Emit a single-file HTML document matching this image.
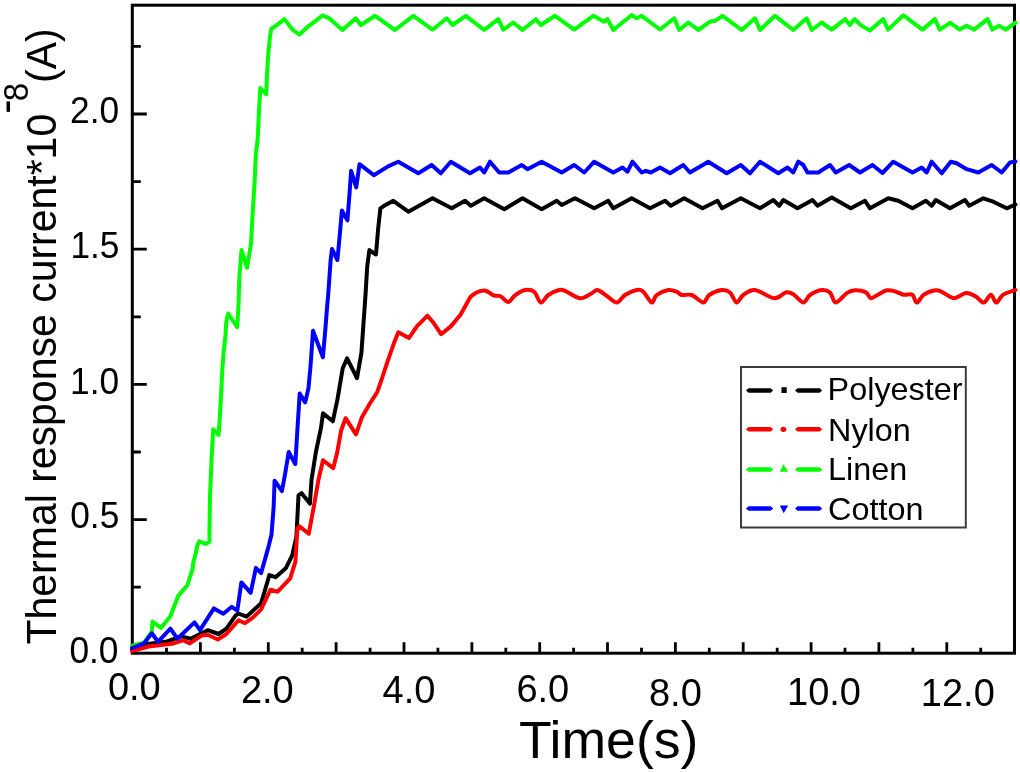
<!DOCTYPE html>
<html><head><meta charset="utf-8"><title>Thermal response current</title>
<style>
html,body{margin:0;padding:0;background:#fff;}
body{width:1020px;height:772px;overflow:hidden;}
svg{display:block;}
text{font-family:"Liberation Sans",sans-serif;fill:#000;}
.xl{font-size:38px;}
.yl{font-size:37px;}
.lg{font-size:31px;}
</style></head>
<body>
<svg width="1020" height="772" viewBox="0 0 1020 772">
<rect width="1020" height="772" fill="#fff"/>
<rect x="132.3" y="5.2" width="882.2" height="648.0" fill="none" stroke="#000" stroke-width="3"/>
<path d="M166.5 653.2V647.7M200.4 653.2V642.2M234.4 653.2V647.7M268.3 653.2V642.2M302.2 653.2V647.7M336.1 653.2V642.2M370.1 653.2V647.7M404.0 653.2V642.2M437.9 653.2V647.7M471.9 653.2V642.2M505.8 653.2V647.7M539.7 653.2V642.2M573.6 653.2V647.7M607.5 653.2V642.2M641.5 653.2V647.7M675.4 653.2V642.2M709.3 653.2V647.7M743.2 653.2V642.2M777.2 653.2V647.7M811.1 653.2V642.2M845.0 653.2V647.7M878.9 653.2V642.2M912.9 653.2V647.7M946.8 653.2V642.2M980.7 653.2V647.7M132.3 587.2H140.8M132.3 519.6H146.8M132.3 452.0H140.8M132.3 384.4H146.8M132.3 316.8H140.8M132.3 249.2H146.8M132.3 181.6H140.8M132.3 114.0H146.8M132.3 46.4H140.8" stroke="#000" stroke-width="2.8" fill="none"/>
<defs><filter id="bl" x="-5%" y="-5%" width="110%" height="110%"><feGaussianBlur stdDeviation="0.45"/></filter></defs>
<g fill="none" stroke-width="4" stroke-linejoin="round" stroke-linecap="round" filter="url(#bl)">
<polyline stroke="#000000" points="132,650.4 145.5,644.2 165.8,641.8 181.3,636.4 190.6,638.7 207.7,630.2 218.6,634 226.4,628.6 235.7,615.4 238.3,613.5 246.6,616.6 261.1,603.2 269.4,575.1 275.6,577.2 286,567.9 292.2,555.4 296.4,536.8 298.5,495.3 301.6,493.2 309.9,503.6 311.5,480 315.8,452.5 321,427.9 323,413.2 332.8,421.3 337.5,399.2 342.7,368.3 347.1,358.4 357,378.2 361.4,352.9 363.6,322 365.5,295 367.2,266.6 369.4,250.1 376,254.5 378.2,228.1 380.4,208.3 383.7,206.1 393.3,200.8 408.3,211.7 432.5,198.3 451.7,208.3 465,200.8 470.8,205.8 484.2,198.3 504.2,209.2 522.5,198.3 541.7,209.2 556.7,200.8 561.7,205 575,198.3 594.2,208.3 608.3,200.8 613.3,208.3 631.7,198.3 650,208.3 665,200.8 670.8,205.8 684.2,198.3 702.5,208.3 717.5,200.8 722,208.3 740.8,198.3 760,208.3 773.3,200 779.2,205.8 783.3,200 797.5,208.3 812.5,200 817.5,205.8 831.7,197.5 850.8,208.3 865,200.8 870,208.3 888.3,198.3 898.3,200.8 912.5,208.3 925.8,200.8 931.7,205.8 935.8,200 950,208.3 965,200 969.2,205.8 983.3,198.3 993.3,201.7 1006.7,208.3 1015.5,204.5"/>
<path stroke="#ff0000" d="M132,651.1L148.7,646.5L173.5,643.4L182.9,640.3L189.8,643.4L201.5,635.6L207.7,634.8L217.8,639.5L226.4,634L238.5,620.2L245,623.2L252.8,617.7L261.1,609.4L270.5,589.7L277.7,591.7L290.2,578.3L295.4,561.7L297.4,528.5L299.5,526.4L308.8,533.7L314,505.6L318.4,480L323,460.3L333.3,468.1L337.2,452.5L341.1,430.5L345.6,418.2L356,434.4L361.8,417.6L369.6,404L377.4,391.7L380.8,381.8L387.6,361.4L394.4,341.9L398.3,332.2L409,338L416.8,326.4L427.5,315.7L433.3,322.5L441.1,334.2L450.8,326.4L460.5,314.7L470.2,297.2C474.1,293.1 480.0,290.7 483.9,290.4C487.8,290.1 490.9,294.3 493.6,295.3C496.4,296.3 498.0,295.1 500.4,296.2C502.8,297.3 505.8,302.2 508.2,302.1C510.6,302.0 512.2,297.3 515,295.3C517.8,293.3 521.8,290.6 525,290C528.2,289.4 531.6,289.6 534.2,291.7C536.8,293.8 538.4,301.9 540.8,302.5C543.1,303.1 545.2,297.1 548.3,295C551.4,292.9 556.4,290.7 559.2,290C562.0,289.3 561.5,289.4 565,290.8C568.5,292.2 575.5,297.9 580,298.3C584.5,298.7 588.8,294.7 591.7,293.3C594.6,291.9 595.0,289.6 597.5,290C600.0,290.4 603.5,293.7 606.7,295.8C609.9,297.9 613.7,302.6 616.7,302.5C619.8,302.4 621.7,297.1 625,295C628.3,292.9 633.7,290.6 636.7,290C639.8,289.4 640.8,289.6 643.3,291.7C645.8,293.8 649.5,301.9 651.7,302.5C653.9,303.1 653.9,297.1 656.7,295C659.5,292.9 665.0,290.6 668.3,290C671.6,289.4 674.5,290.9 676.7,291.7C678.9,292.5 679.2,294.4 681.7,295C684.2,295.6 688.1,293.8 691.7,295C695.3,296.2 700.4,302.5 703.3,302.5C706.2,302.5 706.1,297.1 709.2,295C712.3,292.9 718.2,290.4 721.7,290C725.2,289.6 727.5,290.4 730,292.5C732.5,294.6 734.5,302.1 736.7,302.5C738.9,302.9 740.2,297.1 743.3,295C746.3,292.9 749.9,289.4 755,290C760.1,290.6 769.1,297.9 774.2,298.3C779.3,298.7 782.6,293.2 785.8,292.5C789.0,291.8 790.4,292.5 793.3,294.2C796.2,295.9 800.5,302.4 803.3,302.5C806.1,302.6 806.9,297.1 810,295C813.1,292.9 818.4,290.4 821.7,290C825.0,289.6 827.6,290.4 830,292.5C832.4,294.6 832.9,302.4 835.8,302.5C838.6,302.6 843.9,294.9 847.1,292.9C850.3,290.9 851.9,290.4 855,290.3C858.1,290.2 863.0,290.8 865.6,292.1C868.2,293.4 868.9,297.8 870.9,298.2C872.9,298.6 875.2,296.0 877.9,294.7C880.5,293.4 884.0,290.9 886.8,290.3C889.6,289.7 891.9,290.5 894.7,291.2C897.5,291.9 900.6,294.1 903.5,294.7C906.4,295.3 910.1,293.4 912.3,294.7C914.5,296.0 914.9,302.6 916.8,302.6C918.7,302.6 920.7,296.8 923.8,294.7C926.9,292.6 932.2,290.7 935.3,290.3C938.4,289.9 939.2,290.8 942.3,292.1C945.4,293.4 949.8,298.1 953.8,298.2C957.8,298.3 962.5,293.2 966.2,292.9C969.9,292.6 973.0,294.9 975.9,296.5C978.8,298.1 981.3,302.9 983.8,302.6C986.3,302.3 988.8,294.7 990.9,294.7C993.0,294.7 994.2,302.6 996.2,302.6C998.2,302.6 1000.0,296.8 1003.2,294.7C1006.4,292.6 1013.5,290.8 1015.5,290"/>
<polyline stroke="#00ff00" points="132,645.7 144,642.6 151.8,631.7 152.5,621.6 161.1,627.8 170.4,616.2 178.2,596 187.5,585 189.8,577.3 192.4,570 193.5,561.5 195.5,554.2 197.6,544.9 199.2,541.3 205.9,543.9 209.5,541.8 209.5,529.4 210,496.2 211.6,458.9 213.2,429.3 218.6,434.8 220,414.3 221.2,392.6 222.3,369.9 223.6,352.6 225.4,336.3 226.3,321.8 228.1,313.6 237.2,327.2 238.6,303.6 239.3,278.8 241.5,250.1 247,267.8 249.2,254.5 251,243.5 251.9,227 253.2,203.9 254.7,180.7 255.8,154.3 257.6,140 258.1,130.7 259.1,108.9 260.3,88 266.3,94.4 266.9,76.2 268.1,56.3 269.9,37.2 271.2,29 276.3,25.4 284.5,19.1 292.6,29.9 299.5,34.5 307.2,27.2 314.4,21.8 322.6,15.4 328.9,18.1 342.5,30 355.8,18.3 360.8,25 375,15.8 395,30 413.3,15.8 432.5,29.7 446.7,18.3 452.5,25 465.8,15.8 484.2,30 498.3,19.2 503.3,29.7 513.3,22.5 522.5,30 535.8,19.2 540.8,25 555,15.8 574.2,29.7 593.3,15.8 604.2,21.7 607.5,19.2 613.3,30 631.7,15 636.7,18.3 641.7,15.8 660,29.5 674.2,18.3 679.2,30 688.3,22.5 698.3,30 710,21.7 715,20.8 722.5,15.8 741.7,30 755,18.3 760,30 775,15.8 793.3,30 806.7,18.3 811.7,30 821.7,22.5 831.7,29.6 845.1,19.1 849.9,24.9 854.6,19.1 860.4,24.9 869.9,30.6 883.3,19.1 888.1,29.6 903.4,15.3 922.5,29.6 935,19.1 939.7,29.6 950.2,22.9 959.8,29.6 966.5,25.8 974.1,29.6 987.5,19.1 992.3,29.6 999,25.8 1005.7,29.6 1015.5,22.6"/>
<polyline stroke="#0000ff" points="132,648 144,643.4 151.8,633.3 158,641.8 170.4,628.6 177.4,638.7 194.5,622.4 200,630.2 213.9,608.4 223.3,613.8 231.8,606.8 237.3,610.7 241.4,582.4 250.7,592.8 255.9,567.9 261.1,573.1 268.4,547.1 271.5,534.7 273.6,507.7 274.6,480.7 281.9,491.1 285,474.5 288.7,452 295.3,464.1 297.5,427.8 299.7,393.6 305.2,402.4 308.5,388.1 310.7,363.9 313,330.8 322.9,357.3 325.3,330 326.8,310.6 328.1,295.7 329.4,277.6 330.7,259.4 332,249 337.4,260 339.6,236.9 341.9,210.5 347.4,220.4 349.6,192.9 351.1,170.8 356.2,187.4 359.5,164.2 373.8,175.2 388.1,166.4 398.3,161.7 418.3,173.3 431.7,165 440.8,173.3 450.8,161.7 470,173.3 480,167.5 484.2,172.5 490,161.7 499.2,172.5 508.3,172.5 521.7,165 527.5,169.2 541.7,161.7 561.7,172.5 574.2,165 584.2,172.5 594.2,161.7 613.3,172.5 622.5,167.5 627.5,171.7 632.5,161.7 641.7,172.5 645.8,170.8 650.8,172.5 660,167.5 670,173.3 683.3,165 690,172.5 708.3,161.7 726.7,173.3 740.8,165 750,173.3 760,161.7 778.3,173.3 787.5,167.5 793.3,172.5 798.3,161.7 803.3,165 807.5,172.5 818.3,172.5 830,165 835.8,172.5 849.2,165 860,172.5 872.5,165 882.5,173 893.3,161.7 912.5,172.5 921.7,167.5 926.7,172.5 931.7,161.7 941.7,173.3 950.8,161.7 956.7,163.3 966.7,169.2 978.3,172.5 991.7,165 1001.7,172.5 1010,162.5 1015.5,161.5"/>
</g>
<text x="134.3" y="700.1" text-anchor="middle" class="xl">0.0</text>
<text x="267.3" y="703" text-anchor="middle" class="xl">2.0</text>
<text x="409" y="703.1" text-anchor="middle" class="xl">4.0</text>
<text x="542.8" y="702.2" text-anchor="middle" class="xl">6.0</text>
<text x="675.4" y="706.4" text-anchor="middle" class="xl">8.0</text>
<text x="824" y="705.1" text-anchor="middle" class="xl">10.0</text>
<text x="957.8" y="706.4" text-anchor="middle" class="xl">12.0</text>
<text transform="translate(118.5,663.3) scale(0.955,1)" text-anchor="end" class="yl">0.0</text>
<text transform="translate(119.3,528.3) scale(0.955,1)" text-anchor="end" class="yl">0.5</text>
<text transform="translate(119.2,394) scale(0.955,1)" text-anchor="end" class="yl">1.0</text>
<text transform="translate(119.5,258.3) scale(0.955,1)" text-anchor="end" class="yl">1.5</text>
<text transform="translate(119.2,122.9) scale(0.955,1)" text-anchor="end" class="yl">2.0</text>
<text transform="translate(608.6,758.2) scale(1.05,1)" text-anchor="middle" style="font-size:51px">Time(s)</text>
<text transform="translate(55.5,644.5) rotate(-90) scale(1,1.05)" style="font-size:41px">Thermal response current*10<tspan dy="-34" style="font-size:43px">-</tspan><tspan dx="-1.8" dy="8" style="font-size:33px">8</tspan><tspan dy="26">(A)</tspan></text>
<!-- legend -->
<rect x="741" y="367" width="224.8" height="160.5" fill="#fff" stroke="#3c3c3c" stroke-width="2"/>
<path d="M746 390.5L748.6 388.25H770.6L773.2 390.5L770.6 392.75H748.6ZM795 390.5L797.6 388.25H819.6L822.2 390.5L819.6 392.75H797.6Z" fill="#000"/>
<path d="M746 429.2L748.6 426.95H770.6L773.2 429.2L770.6 431.45H748.6ZM795 429.2L797.6 426.95H819.6L822.2 429.2L819.6 431.45H797.6Z" fill="#f00"/>
<path d="M746 469.6L748.6 467.35H770.6L773.2 469.6L770.6 471.85H748.6ZM795 469.6L797.6 467.35H819.6L822.2 469.6L819.6 471.85H797.6Z" fill="#0f0"/>
<path d="M746 508.6L748.6 506.35H770.6L773.2 508.6L770.6 510.85H748.6ZM795 508.6L797.6 506.35H819.6L822.2 508.6L819.6 510.85H797.6Z" fill="#00f"/>
<rect x="781.5" y="387.2" width="5.2" height="5.8" fill="#000"/>
<ellipse cx="783.4" cy="429.3" rx="2.9" ry="2.6" fill="#f00"/>
<path d="M783.5 464.2L788.2 471.8H779.8Z" fill="#0f0"/>
<path d="M779.8 505.4H788.2L783.7 513.2Z" fill="#00f"/>
<text transform="translate(827.6,400.4) scale(1.045,1)" class="lg">Polyester</text>
<text transform="translate(828,440.6) scale(1.045,1)" class="lg">Nylon</text>
<text transform="translate(828,480) scale(1.045,1)" class="lg">Linen</text>
<text transform="translate(828,519.6) scale(1.045,1)" class="lg">Cotton</text>
</svg>
</body></html>
